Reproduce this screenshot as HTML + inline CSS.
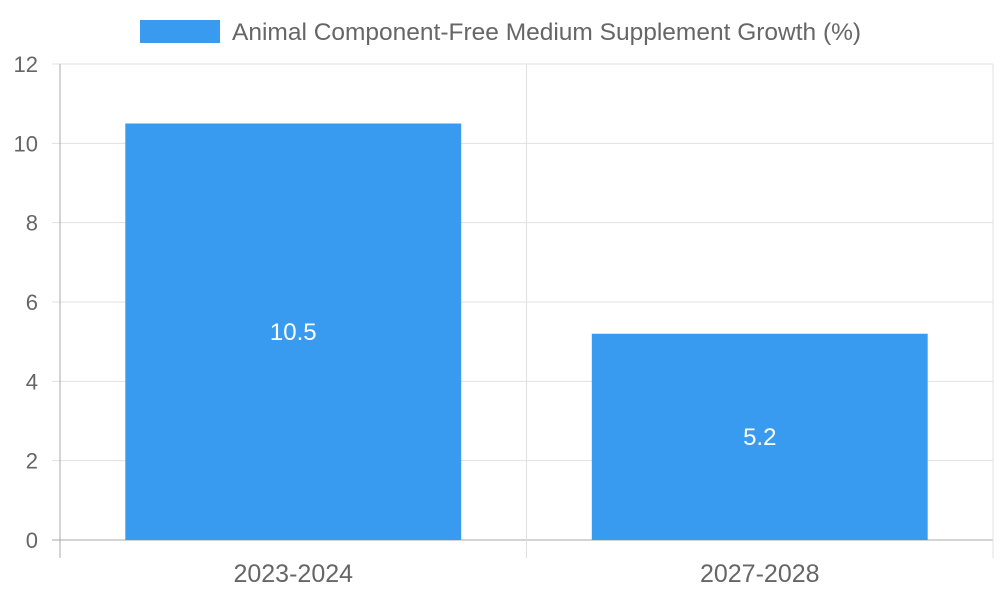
<!DOCTYPE html>
<html><head><meta charset="utf-8"><style>
body{margin:0;background:#fff;font-family:"Liberation Sans",sans-serif;}
</style></head><body>
<svg width="1000" height="600" xmlns="http://www.w3.org/2000/svg">
<g>
<rect x="140" y="20" width="80" height="23" fill="#389bf0"/>
<text x="232" y="40" font-size="24.5" fill="#666" font-family="Liberation Sans, sans-serif">Animal Component-Free Medium Supplement Growth (%)</text>
</g>
<g id="grid"></g>
<g id="bars"></g>
<g id="labels"></g>
</svg>
<script>
const categories=["2023-2024","2027-2028"];
const values=[10.5,5.2];
const yTicks=[0,2,4,6,8,10,12];
const NS="http://www.w3.org/2000/svg";
const x0=60,x1=993,y0=540,y1=64,yMax=12;
const y=v=>y0-(v/yMax)*(y0-y1);
const band=(x1-x0)/categories.length;
const grid=document.getElementById('grid'),bars=document.getElementById('bars'),labels=document.getElementById('labels');
function mk(tag,attrs,parent){const e=document.createElementNS(NS,tag);for(const k in attrs)e.setAttribute(k,attrs[k]);parent.appendChild(e);return e;}
yTicks.forEach(t=>{
 const l=mk('line',{x1:52,x2:x1,y1:y(t),y2:y(t),stroke:t===0?'#aaa':'#e0e0e0','stroke-width':1},grid);
 
 
 const tx=mk('text',{x:38,y:y(t)+8,'text-anchor':'end','font-size':22,fill:'#666'},grid);
 tx.textContent=t;
 
 
});
for(let i=0;i<=categories.length;i++){
 const gx=x0+i*band;
 const l=mk('line',{x1:gx,x2:gx,y1:y1,y2:558,stroke:i===0?'#aaa':'#e0e0e0','stroke-width':1},grid);
 
 
}
categories.forEach((c,i)=>{
 const bw=band*0.72,bx=x0+i*band+(band-bw)/2;
 const r=mk('rect',{x:bx,y:y(values[i]),width:bw,height:y0-y(values[i]),fill:'#389bf0'},bars);
 
 
 const vt=mk('text',{x:bx+bw/2,y:(y(values[i])+y0)/2+8,'text-anchor':'middle','font-size':24,fill:'#fff'},labels);
 vt.textContent=values[i];
 
 
 const ct=mk('text',{x:x0+i*band+band/2,y:582,'text-anchor':'middle','font-size':25,fill:'#666'},labels);
 ct.textContent=c;
 
 
});
</script>
</body></html>
